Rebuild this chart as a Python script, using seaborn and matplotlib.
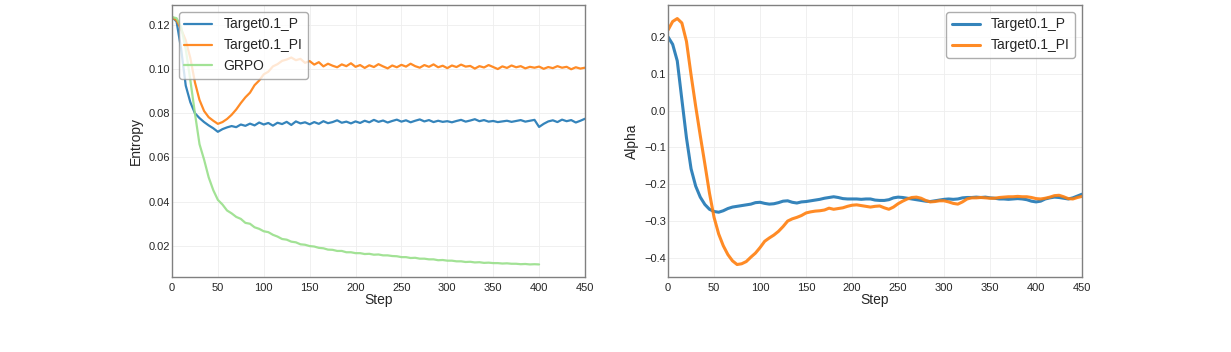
import numpy as np
import pandas as pd
import seaborn as sns
import matplotlib.pyplot as plt

# entropy curves, every 5 steps
steps = list(range(0, 455, 5))
grpo_steps = list(range(0, 405, 5))

entropy_p = [0.1235, 0.1215, 0.1090, 0.0925, 0.0850, 0.0800, 0.0778, 0.0760, 0.0745, 0.0732,
             0.0716, 0.0728, 0.0736, 0.0742, 0.0737, 0.0749, 0.0743, 0.0753, 0.0745, 0.0758,
             0.0749, 0.0756, 0.0744, 0.0757, 0.0751, 0.0761, 0.0747, 0.0763, 0.0754, 0.0759,
             0.0750, 0.0760, 0.0752, 0.0764, 0.0755, 0.0760, 0.0768, 0.0757, 0.0762, 0.0754,
             0.0763, 0.0756, 0.0766, 0.0759, 0.0770, 0.0761, 0.0767, 0.0758, 0.0765, 0.0771,
             0.0762, 0.0768, 0.0759, 0.0766, 0.0772, 0.0763, 0.0769, 0.0760, 0.0766, 0.0761,
             0.0764, 0.0759, 0.0765, 0.0770, 0.0762, 0.0767, 0.0773, 0.0764, 0.0769, 0.0762,
             0.0765, 0.0760, 0.0763, 0.0766, 0.0761, 0.0765, 0.0769, 0.0762, 0.0766, 0.0770,
             0.0738, 0.0752, 0.0763, 0.0768, 0.0760, 0.0771, 0.0764, 0.0769, 0.0758, 0.0766,
             0.0775]

entropy_pi = [0.1235, 0.1220, 0.1180, 0.1130, 0.1050, 0.0940, 0.0860, 0.0810, 0.0782, 0.0766,
              0.0752, 0.0760, 0.0774, 0.0793, 0.0817, 0.0846, 0.0872, 0.0893, 0.0927, 0.0948,
              0.0976, 0.0988, 0.1012, 0.1022, 0.1037, 0.1043, 0.1052, 0.1040, 0.1046, 0.1028,
              0.1036, 0.1020, 0.1031, 0.1012, 0.1024, 0.1015, 0.1008, 0.1021, 0.1013, 0.1026,
              0.1010, 0.1018, 0.1005, 0.1017, 0.1009, 0.1022, 0.1012, 0.1003, 0.1016, 0.1008,
              0.1019, 0.1011, 0.1024, 0.1013, 0.1006, 0.1018, 0.1010, 0.1021, 0.1008, 0.1015,
              0.1004, 0.1016, 0.1009, 0.1020, 0.1011, 0.1014, 0.1002, 0.1013, 0.1007, 0.1018,
              0.1009, 0.1000, 0.1012, 0.1005, 0.1016, 0.1008, 0.1013, 0.1003, 0.1010, 0.1006,
              0.1011, 0.1001, 0.1009, 0.1004, 0.1013, 0.1006, 0.1010, 0.0999, 0.1008, 0.1002,
              0.1006]

entropy_grpo = [0.1235, 0.1230, 0.1190, 0.1090, 0.0950, 0.0800, 0.0660, 0.0590, 0.0510, 0.0452,
                0.0408, 0.0387, 0.0360, 0.0347, 0.0331, 0.0322, 0.0304, 0.0300, 0.0284, 0.0277,
                0.0266, 0.0262, 0.0250, 0.0242, 0.0231, 0.0228, 0.0219, 0.0216, 0.0207, 0.0205,
                0.0199, 0.0197, 0.0191, 0.0189, 0.0183, 0.0182, 0.0177, 0.0177, 0.0171, 0.0171,
                0.0167, 0.0167, 0.0163, 0.0164, 0.0160, 0.0161, 0.0157, 0.0157, 0.0154, 0.0153,
                0.0149, 0.0149, 0.0145, 0.0146, 0.0142, 0.0142, 0.0139, 0.0139, 0.0135, 0.0136,
                0.0133, 0.0133, 0.0130, 0.0130, 0.0127, 0.0128, 0.0125, 0.0126, 0.0123, 0.0124,
                0.0122, 0.0122, 0.0120, 0.0121, 0.0119, 0.0119, 0.0117, 0.0118, 0.0116, 0.0117,
                0.0116]

# alpha curves, every 5 steps
alpha_p = [0.200, 0.180, 0.135, 0.030, -0.074, -0.158, -0.205, -0.235, -0.255, -0.268,
           -0.274, -0.276, -0.272, -0.266, -0.262, -0.260, -0.258, -0.256, -0.254, -0.250,
           -0.249, -0.252, -0.254, -0.253, -0.250, -0.246, -0.245, -0.249, -0.251, -0.248,
           -0.247, -0.245, -0.243, -0.241, -0.238, -0.236, -0.234, -0.236, -0.239, -0.240,
           -0.240, -0.240, -0.241, -0.240, -0.240, -0.243, -0.244, -0.244, -0.242, -0.237,
           -0.235, -0.236, -0.238, -0.240, -0.242, -0.244, -0.246, -0.247, -0.245, -0.243,
           -0.241, -0.240, -0.241, -0.240, -0.237, -0.236, -0.236, -0.235, -0.236, -0.235,
           -0.237, -0.238, -0.240, -0.240, -0.241, -0.240, -0.239, -0.240, -0.242, -0.246,
           -0.248, -0.246, -0.240, -0.237, -0.235, -0.236, -0.238, -0.240, -0.237, -0.232,
           -0.227]

alpha_pi = [0.219, 0.242, 0.250, 0.238, 0.188, 0.097, 0.012, -0.068, -0.145, -0.224,
            -0.290, -0.335, -0.367, -0.391, -0.408, -0.418, -0.416, -0.410, -0.398, -0.387,
            -0.372, -0.355, -0.346, -0.338, -0.328, -0.315, -0.300, -0.294, -0.290, -0.285,
            -0.278, -0.275, -0.273, -0.272, -0.270, -0.265, -0.268, -0.266, -0.264, -0.260,
            -0.257, -0.256, -0.258, -0.260, -0.262, -0.260, -0.259, -0.264, -0.268, -0.262,
            -0.253, -0.246, -0.240, -0.236, -0.235, -0.238, -0.244, -0.248, -0.247, -0.245,
            -0.245, -0.248, -0.252, -0.254, -0.248, -0.240, -0.237, -0.237, -0.236, -0.237,
            -0.238, -0.238, -0.236, -0.235, -0.234, -0.234, -0.233, -0.234, -0.234, -0.236,
            -0.239, -0.240, -0.238, -0.235, -0.231, -0.230, -0.234, -0.239, -0.240, -0.236,
            -0.233]

labels = ['Target0.1_P', 'Target0.1_PI', 'GRPO']
colors = ['#1f77b4', '#ff7f0e', '#98df8a']

sns.set_theme(style='whitegrid')
plt.rcParams['font.family'] = ['Liberation Sans', 'DejaVu Sans']

fig = plt.figure(figsize=(12.31, 3.52), dpi=100)
ax1 = fig.add_axes([0.1397, 0.213, 0.3355, 0.773])
ax2 = fig.add_axes([0.5427, 0.213, 0.3363, 0.773])

# left: entropy
sns.lineplot(x=steps, y=entropy_p, ax=ax1, color=colors[0], lw=1.6, alpha=0.9, label=labels[0])
sns.lineplot(x=steps, y=entropy_pi, ax=ax1, color=colors[1], lw=1.6, alpha=0.9, label=labels[1])
sns.lineplot(x=grpo_steps, y=entropy_grpo, ax=ax1, color=colors[2], lw=1.6, alpha=0.9, label=labels[2])
ax1.set_xlim(0, 450)
ax1.set_ylim(0.0059, 0.129)
ax1.set_yticks([0.02, 0.04, 0.06, 0.08, 0.10, 0.12])
ax1.set_ylabel('Entropy', fontsize=10)
ax1.legend(loc='upper left', fontsize=10, framealpha=0.8, edgecolor='#999999')

# right: alpha
sns.lineplot(x=steps, y=alpha_p, ax=ax2, color=colors[0], lw=2.2, alpha=0.9, label=labels[0])
sns.lineplot(x=steps, y=alpha_pi, ax=ax2, color=colors[1], lw=2.2, alpha=0.9, label=labels[1])
ax2.set_xlim(0, 450)
ax2.set_ylim(-0.452, 0.287)
ax2.set_ylabel('Alpha', fontsize=10)
ax2.legend(loc='upper right', fontsize=10, framealpha=0.8, edgecolor='#999999')

for ax in [ax1, ax2]:
    ax.set_xticks(range(0, 451, 50))
    ax.set_xlabel('Step', fontsize=10, labelpad=0)
    ax.tick_params(axis='both', labelsize=8, length=3, width=0.8, color='#555555', pad=1.5)
    ax.tick_params(axis='y', length=0)
    ax.grid(True, color='#eeeeee', lw=0.6)
    for s in ax.spines.values():
        s.set_color('#808080')
        s.set_linewidth(1.0)

plt.savefig('out.png', dpi=100)
